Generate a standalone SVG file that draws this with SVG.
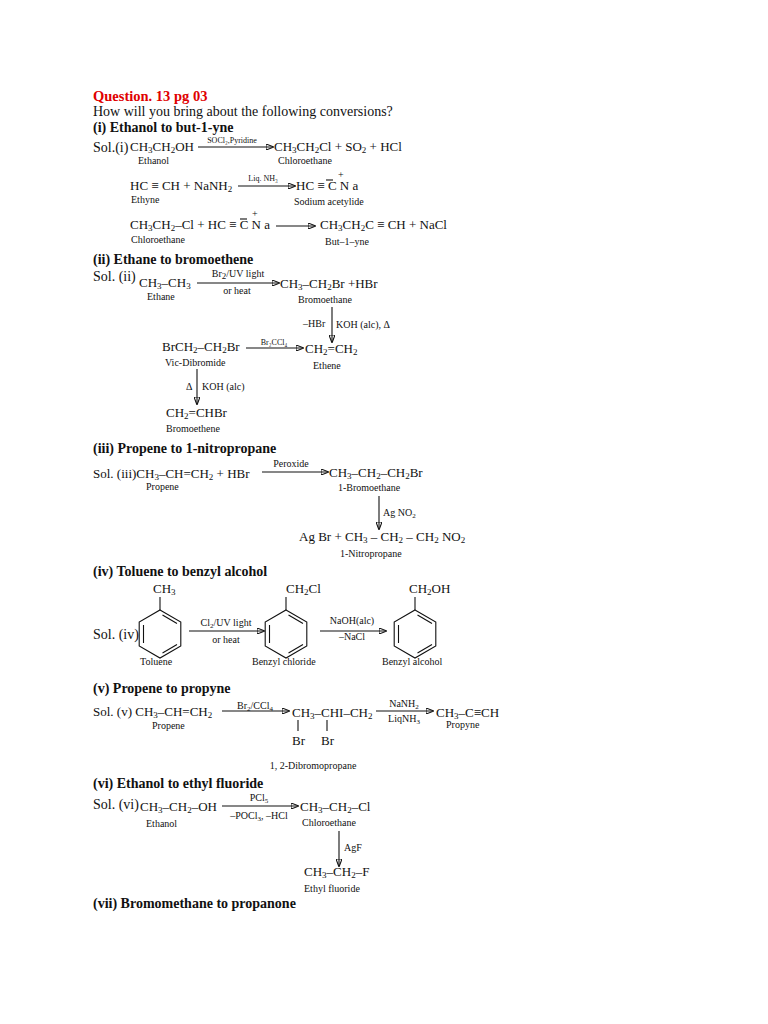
<svg xmlns="http://www.w3.org/2000/svg" width="768" height="1024" viewBox="0 0 768 1024">
<style>
text{font-family:"Liberation Serif","DejaVu Serif",serif;fill:#111}
.q{font-size:14.5px;font-weight:bold;fill:#e00000}
.h{font-size:14px;font-weight:bold}
.t{font-size:14px}
.f{font-size:13px}
.l{font-size:10px}
.r{font-size:8px}
.s{font-size:9px}
.c{text-anchor:middle}
line,path,polygon{stroke:#111;stroke-width:1.1;fill:none}
</style>
<defs><marker id="a" markerWidth="8" markerHeight="6" refX="7" refY="3" orient="auto" markerUnits="userSpaceOnUse"><path d="M0,0L8,3L0,6z" fill="#111" stroke="none"/></marker>
<g id="ring"><polygon points="0,-24 20.8,-12 20.8,12 0,24 -20.8,12 -20.8,-12"/><line x1="-16.5" y1="-9" x2="-16.5" y2="9"/><line x1="2.5" y1="-19" x2="17" y2="-10.5"/><line x1="2.5" y1="19" x2="17" y2="10.5"/></g></defs>
<text class="q" x="93" y="101">Question. 13 pg 03</text>
<text class="t" x="93" y="116">How will you bring about the following conversions?</text>
<text class="h" x="93" y="132">(i) Ethanol to but-1-yne</text>
<g id="n1"><text class="t" x="93" y="152">Sol.(i)</text><text class="f" x="130" y="151">CH<tspan class="s" dy="2">3</tspan><tspan dy="-2">CH</tspan><tspan class="s" dy="2">2</tspan><tspan dy="-2">OH</tspan></text><text class="l" x="138" y="164">Ethanol</text>
<text class="r c" x="232" y="143">SOCl₂,Pyridine</text>
<text class="f" x="274" y="151">CH<tspan class="s" dy="2">3</tspan><tspan dy="-2">CH</tspan><tspan class="s" dy="2">2</tspan><tspan dy="-2">Cl + SO</tspan><tspan class="s" dy="2">2</tspan><tspan dy="-2"> + HCl</tspan></text><text class="l" x="278" y="164">Chloroethane</text></g>
<g id="n2"><text class="f" x="130" y="190">HC ≡ CH + NaNH<tspan class="s" dy="2">2</tspan></text><text class="l" x="131" y="203">Ethyne</text><text class="r c" x="263" y="181">Liq. NH₃</text>
<text class="f" x="296" y="190">HC ≡ C N a</text><line x1="326" y1="180" x2="333" y2="180"/><text class="l" x="338" y="178">+</text><text class="l" x="294" y="205">Sodium acetylide</text></g>
<g id="n3"><text class="f" x="130" y="229">CH<tspan class="s" dy="2">3</tspan><tspan dy="-2">CH</tspan><tspan class="s" dy="2">2</tspan><tspan dy="-2">–Cl + HC ≡ C N a</tspan></text><line x1="240" y1="219" x2="247" y2="219"/><text class="l" x="252" y="217">+</text><text class="l" x="131" y="243">Chloroethane</text>
<text class="f" x="320" y="229">CH<tspan class="s" dy="2">3</tspan><tspan dy="-2">CH</tspan><tspan class="s" dy="2">2</tspan><tspan dy="-2">C ≡ CH + NaCl</tspan></text><text class="l" x="325" y="245">But–1–yne</text></g>
<text class="h" x="93" y="264">(ii) Ethane to bromoethene</text>
<g id="n4"><text class="t" x="93" y="281">Sol. (ii)</text><text class="f" x="139" y="287">CH<tspan class="s" dy="2">3</tspan><tspan dy="-2">–CH</tspan><tspan class="s" dy="2">3</tspan></text><text class="l" x="147" y="300">Ethane</text>
<text class="l c" x="238" y="277">Br<tspan class="s" dy="2" font-size="7">2</tspan><tspan dy="-2">/UV light</tspan></text><text class="l c" x="237" y="294">or heat</text>
<text class="f" x="280" y="288">CH<tspan class="s" dy="2">3</tspan><tspan dy="-2">–CH</tspan><tspan class="s" dy="2">2</tspan><tspan dy="-2">Br +HBr</tspan></text><text class="l" x="298" y="303">Bromoethane</text>
<text class="l" x="303" y="327">–HBr</text><text class="l" x="336" y="328">KOH (alc), Δ</text>
<text class="f" x="162" y="351">BrCH<tspan class="s" dy="2">2</tspan><tspan dy="-2">–CH</tspan><tspan class="s" dy="2">2</tspan><tspan dy="-2">Br</tspan></text><text class="l" x="165" y="366">Vic-Dibromide</text>
<text class="r c" x="274" y="345">Br₂CCl₄</text>
<text class="f" x="305" y="353">CH<tspan class="s" dy="2">2</tspan><tspan dy="-2">=CH</tspan><tspan class="s" dy="2">2</tspan></text><text class="l" x="313" y="369">Ethene</text>
<text class="l" x="186" y="390">Δ</text><text class="l" x="202" y="390">KOH (alc)</text>
<text class="f" x="166" y="417">CH<tspan class="s" dy="2">2</tspan><tspan dy="-2">=CHBr</tspan></text><text class="l" x="166" y="432">Bromoethene</text></g>
<text class="h" x="93" y="453">(iii) Propene to 1-nitropropane</text>
<g id="n5"><text class="f" x="93" y="478">Sol. (iii)CH<tspan class="s" dy="2">3</tspan><tspan dy="-2">–CH=CH</tspan><tspan class="s" dy="2">2</tspan><tspan dy="-2"> + HBr</tspan></text><text class="l" x="146" y="490">Propene</text>
<text class="l c" x="291" y="467">Peroxide</text>
<text class="f" x="329" y="477">CH<tspan class="s" dy="2">3</tspan><tspan dy="-2">–CH</tspan><tspan class="s" dy="2">2</tspan><tspan dy="-2">–CH</tspan><tspan class="s" dy="2">2</tspan><tspan dy="-2">Br</tspan></text><text class="l" x="338" y="491">1-Bromoethane</text>
<text class="l" x="383" y="516">Ag NO<tspan font-size="7" dy="2">2</tspan></text>
<text class="f" x="299" y="541">Ag Br + CH<tspan class="s" dy="2">3</tspan><tspan dy="-2"> – CH</tspan><tspan class="s" dy="2">2</tspan><tspan dy="-2"> – CH</tspan><tspan class="s" dy="2">2</tspan><tspan dy="-2"> NO</tspan><tspan class="s" dy="2">2</tspan></text><text class="l" x="340" y="557">1-Nitropropane</text></g>
<text class="h" x="93" y="576">(iv) Toluene to benzyl alcohol</text>
<g id="n6"><text class="t" x="93" y="639">Sol. (iv)</text>
<use href="#ring" x="160" y="634"/><line x1="160" y1="610" x2="160" y2="597"/><text class="f" x="153" y="593">CH<tspan class="s" dy="2">3</tspan></text><text class="l" x="140" y="665">Toluene</text>
<text class="l c" x="226" y="626">Cl<tspan font-size="7" dy="2">2</tspan><tspan dy="-2">/UV light</tspan></text><text class="l c" x="226" y="643">or heat</text>
<use href="#ring" x="286" y="634"/><line x1="286" y1="610" x2="286" y2="597"/><text class="f" x="286" y="593">CH<tspan class="s" dy="2">2</tspan><tspan dy="-2">Cl</tspan></text><text class="l" x="252" y="665">Benzyl chloride</text>
<text class="l c" x="352" y="624">NaOH(alc)</text><text class="l c" x="352" y="640">–NaCl</text>
<use href="#ring" x="415" y="634"/><line x1="415" y1="610" x2="415" y2="597"/><text class="f" x="409" y="593">CH<tspan class="s" dy="2">2</tspan><tspan dy="-2">OH</tspan></text><text class="l" x="382" y="665">Benzyl alcohol</text></g>
<text class="h" x="93" y="693">(v) Propene to propyne</text>
<g id="n7"><text class="f" x="93" y="716">Sol. (v)  CH<tspan class="s" dy="2">3</tspan><tspan dy="-2">–CH=CH</tspan><tspan class="s" dy="2">2</tspan></text><text class="l" x="152" y="729">Propene</text>
<text class="l c" x="255" y="709">Br<tspan font-size="7" dy="2">2</tspan><tspan dy="-2">/CCl</tspan><tspan font-size="7" dy="2">4</tspan></text>
<text class="f" x="292" y="717">CH<tspan class="s" dy="2">3</tspan><tspan dy="-2">–CHI–CH</tspan><tspan class="s" dy="2">2</tspan></text>
<line x1="298" y1="720" x2="298" y2="731"/><line x1="327" y1="720" x2="327" y2="731"/><text class="f" x="292" y="745">Br</text><text class="f" x="321" y="745">Br</text>
<text class="l c" x="404" y="707">NaNH<tspan font-size="7" dy="2">2</tspan></text><text class="l c" x="404" y="722">LiqNH<tspan font-size="7" dy="2">3</tspan></text>
<text class="f" x="436" y="717">CH<tspan class="s" dy="2">3</tspan><tspan dy="-2">–C≡CH</tspan></text><text class="l" x="446" y="728">Propyne</text>
<text class="l c" x="313" y="769">1, 2-Dibromopropane</text></g>
<text class="h" x="93" y="788">(vi) Ethanol to ethyl fluoride</text>
<g id="n8"><text class="t" x="93" y="809">Sol. (vi)</text><text class="f" x="140" y="811">CH<tspan class="s" dy="2">3</tspan><tspan dy="-2">–CH</tspan><tspan class="s" dy="2">2</tspan><tspan dy="-2">–OH</tspan></text><text class="l" x="146" y="827">Ethanol</text>
<text class="l c" x="259" y="801">PCl<tspan font-size="7" dy="2">5</tspan></text><text class="l c" x="259" y="819">–POCl<tspan font-size="7" dy="2">3</tspan><tspan dy="-2">, –HCl</tspan></text>
<text class="f" x="300" y="811">CH<tspan class="s" dy="2">3</tspan><tspan dy="-2">–CH</tspan><tspan class="s" dy="2">2</tspan><tspan dy="-2">–Cl</tspan></text><text class="l" x="302" y="826">Chloroethane</text>
<text class="l" x="344" y="851">AgF</text>
<text class="f" x="304" y="876">CH<tspan class="s" dy="2">3</tspan><tspan dy="-2">–CH</tspan><tspan class="s" dy="2">2</tspan><tspan dy="-2">–F</tspan></text><text class="l" x="304" y="892">Ethyl fluoride</text></g>
<text class="h" x="93" y="908">(vii) Bromomethane to propanone</text>
<g id="connectors">
<line x1="198" y1="147" x2="273" y2="147" marker-end="url(#a)"/>
<line x1="238" y1="186" x2="295" y2="186" marker-end="url(#a)"/>
<line x1="276" y1="226" x2="315" y2="226" marker-end="url(#a)"/>
<line x1="197" y1="283" x2="279" y2="283" marker-end="url(#a)"/>
<line x1="332" y1="307" x2="332" y2="342" marker-end="url(#a)"/>
<line x1="246" y1="348" x2="303" y2="348" marker-end="url(#a)"/>
<line x1="197" y1="369" x2="197" y2="404" marker-end="url(#a)"/>
<line x1="262" y1="472" x2="328" y2="472" marker-end="url(#a)"/>
<line x1="379" y1="496" x2="379" y2="529" marker-end="url(#a)"/>
<line x1="189" y1="631" x2="264" y2="631" marker-end="url(#a)"/>
<line x1="320" y1="631" x2="386" y2="631" marker-end="url(#a)"/>
<line x1="222" y1="711" x2="289" y2="711" marker-end="url(#a)"/>
<line x1="376" y1="711" x2="433" y2="711" marker-end="url(#a)"/>
<line x1="222" y1="806" x2="298" y2="806" marker-end="url(#a)"/>
<line x1="339" y1="831" x2="339" y2="866" marker-end="url(#a)"/>
</g>
</svg>
